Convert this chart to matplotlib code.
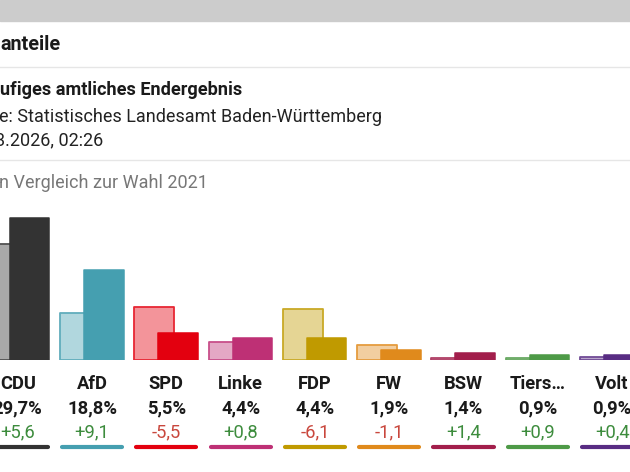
import matplotlib.pyplot as plt
import matplotlib.colors as mcolors
from matplotlib import transforms

plt.rcParams['font.family'] = ['Roboto', 'DejaVu Sans']

parties = ['CDU', 'AfD', 'SPD', 'Linke', 'FDP', 'FW', 'BSW', 'Tiers…', 'Volt']
result_2026 = [29.7, 18.8, 5.5, 4.4, 4.4, 1.9, 1.4, 0.9, 0.9]
result_2021 = [24.1, 9.7, 11.0, 3.6, 10.5, 3.0, 0.0, 0.0, 0.5]
change = [5.6, 9.1, -5.5, 0.8, -6.1, -1.1, 1.4, 0.9, 0.4]
colors = ['#333333', '#459fb0', '#e3000f', '#be3075', '#c09a00',
          '#e08a1c', '#a21e4b', '#4e9a47', '#582c83']

W, H = 630, 472
fig = plt.figure(figsize=(W / 100, H / 100), dpi=100)
fig.patch.set_facecolor('white')


def fy(px):
    return 1 - px / H


def blend(c, a):
    r, g, b = mcolors.to_rgb(c)
    return (1 - a + a * r, 1 - a + a * g, 1 - a + a * b)


# top gray band and separators
fig.patches.append(plt.Rectangle((0, fy(21)), 1, 21 / H, transform=fig.transFigure,
                                 color='#cccccc', zorder=0))
for yy in (67, 160):
    fig.add_artist(plt.Line2D([0, 1], [fy(yy), fy(yy)], transform=fig.transFigure,
                              color='#e6e6e6', lw=1))

fig.text(0, fy(50), 'anteile', fontsize=14.2, fontweight='bold', color='#1a1a1a', va='baseline')
fig.text(0.5 / W, fy(95), 'ufiges amtliches Endergebnis', fontsize=13.1, fontweight='bold',
         color='#1a1a1a', va='baseline')
fig.text(-1 / W, fy(122), 'e: Statistisches Landesamt Baden-Württemberg', fontsize=13,
         color='#222222', va='baseline')
fig.text(-5 / W, fy(145), '3.2026, 02:26', fontsize=13, color='#222222', va='baseline')
fig.text(-1 / W, fy(188), 'n Vergleich zur Wahl 2021', fontsize=13, color='#777777', va='baseline')

# bar axes: group i centred at 17.7 + 74.3*i px, baseline at 359.5 px, 4.78 px per %
step = 74.3
x0 = 17.7
base = 359.5
ppu = 4.78
top = 200
ax = fig.add_axes([0, (H - base) / H, 1, (base - top) / H])
ax.set_xlim(-x0 / step, (W - x0) / step)
ax.set_ylim(0, (base - top) / ppu)
ax.axis('off')

xs = list(range(len(parties)))
for i in xs:
    c = colors[i]
    ax.bar(i - 32 / step, max(result_2021[i], 0.25), width=40 / step, align='edge',
           color=blend(c, 0.42), edgecolor=blend(c, 0.85), linewidth=1.3,
           joinstyle='round', zorder=2)
    ax.bar(i - 8 / step, result_2026[i], width=39.5 / step, align='edge',
           color=c, edgecolor=c, linewidth=1.1, joinstyle='round', zorder=3)

tr = transforms.blended_transform_factory(ax.transData, fig.transFigure)
for i in xs:
    ax.text(i, fy(389), parties[i], transform=tr, ha='center', va='baseline',
            fontsize=13.2, fontweight='bold', color='#1a1a1a', clip_on=False)
    ax.text(i, fy(413), f'{result_2026[i]:.1f}%'.replace('.', ','), transform=tr,
            ha='center', va='baseline', fontsize=13.2, fontweight='bold', color='#1a1a1a',
            clip_on=False)
    d = change[i]
    ax.text(i, fy(437), f'{d:+.1f}'.replace('.', ','), transform=tr, ha='center',
            va='baseline', fontsize=13.2, color='#3d8c3d' if d > 0 else '#c9473d',
            clip_on=False)
    ax.plot([i - 30 / step, i + 30 / step], [fy(447), fy(447)], transform=tr,
            color=colors[i], lw=3, solid_capstyle='round', clip_on=False)

fig.savefig('out.png', dpi=100)
